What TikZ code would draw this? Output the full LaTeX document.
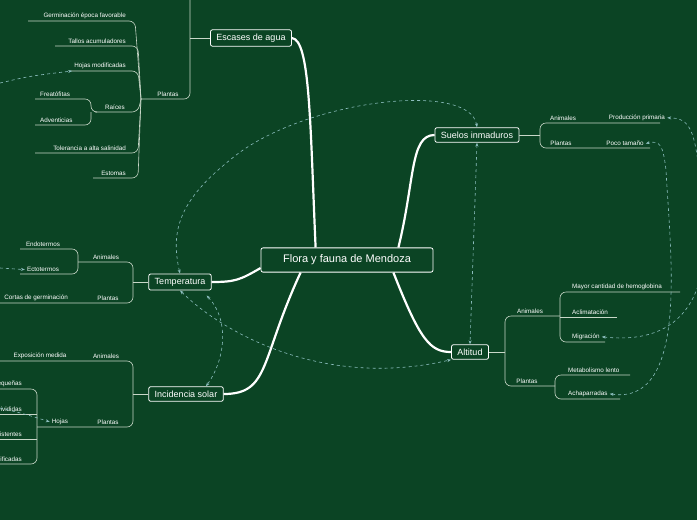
\documentclass[tikz,border=0pt]{standalone}
\usepackage{fontspec}
\setmainfont{Liberation Sans}
\usetikzlibrary{arrows.meta}
\definecolor{bg}{RGB}{11,68,36}
\definecolor{ln}{RGB}{200,215,200}
\definecolor{dsh}{RGB}{140,190,190}
\begin{document}
\begin{tikzpicture}[x=1pt,y=-1pt,
  topic/.style={draw=white,thick,rounded corners=2pt,fill=bg,text=white,font=\fontsize{9}{10}\selectfont,inner xsep=6pt,inner ysep=4pt},
  lbl/.style={text=white,font=\fontsize{6.3}{7}\selectfont,anchor=south,inner sep=2pt},
  ul/.style={draw=ln,line width=0.6pt,rounded corners=6pt},
  main/.style={draw=white,line width=2.2pt},
  relb/.style={draw=dsh,dashed,line width=0.6pt,{Stealth[length=4pt]}-{Stealth[length=4pt]}},
  rel/.style={draw=dsh,dashed,line width=0.6pt,-{Stealth[length=4pt]}}]
\fill[bg] (0,0) rectangle (697,520);
\clip (0,0) rectangle (697,520);
% main topics
\node[topic,font=\fontsize{11}{12}\selectfont,inner ysep=7pt,minimum width=172pt] (c) at (347,260) {Flora y fauna de Mendoza};
\node[topic] (ea) at (251,38) {Escases de agua};
\node[topic] (si) at (477,135) {Suelos inmaduros};
\node[topic] (te) at (180,282) {Temperatura};
\node[topic] (is) at (186,394) {Incidencia solar};
\node[topic] (al) at (470,352) {Altitud};
% thick connectors
\draw[main] (c.north west)++(55,0) .. controls (310,120) and (310,40) .. (ea.east);
\draw[main] (c.north east)++(-35,0) .. controls (415,180) and (410,135) .. (si.west);
\draw[main] (c.west) ++(0,8) .. controls (240,280) and (235,282) .. (te.east);
\draw[main] (c.south west)++(40,0) .. controls (260,360) and (270,394) .. (is.east);
\draw[main] (c.south east)++(-40,0) .. controls (420,340) and (430,352) .. (al.west);
% Escases de agua
\node[lbl] (eap) at (168,99) {Plantas};
\draw[ul] (ea.west) -- (190,38);
\draw[ul] (190,-10) -- (190,99) -- (141,99);
\node[lbl,anchor=south east] (g1) at (128,21) {Germinación época favorable};
\node[lbl,anchor=south east] (g2) at (128,46) {Tallos acumuladores};
\node[lbl,anchor=south east] (g3) at (128,71) {Hojas modificadas};
\node[lbl] (g4) at (115,112) {Raíces};
\node[lbl,anchor=south east] (g5) at (128,153) {Tolerancia a alta salinidad};
\node[lbl,anchor=south east] (g6) at (128,178) {Estomas};
\draw[ul] (28,21) -- (135,21) -- (141,99);
\draw[ul] (55,46) -- (138,46) -- (141,99);
\draw[ul] (70,71) -- (138,71) -- (141,99);
\draw[ul] (95,112) -- (138,112) -- (141,99);
\draw[ul] (35,153) -- (138,153) -- (141,99);
\draw[ul] (93,178) -- (138,178) -- (141,99);
\node[lbl,anchor=south west] (fr) at (38,99) {Freatófitas};
\node[lbl,anchor=south west] (ad) at (38,125) {Adventicias};
\draw[ul] (35,99) -- (91,99) -- (91,112) -- (96,112);
\draw[ul] (35,125) -- (91,125) -- (91,112);
\draw[rel] (0,83) .. controls (30,76) .. (g3.south west);
% Temperatura
\node[lbl] (ta) at (106,262) {Animales};
\node[lbl] (tp) at (108,303) {Plantas};
\draw[ul] (te.west) -- (133,282);
\draw[ul] (78,262) -- (133,262) -- (133,303) -- (0,303);
\node[lbl] (en) at (43,249) {Endotermos};
\node[lbl] (ec) at (43,274) {Ectotermos};
\node[lbl,anchor=south east] (co) at (70,303) {Cortas de germinación};
\draw[ul] (20,249) -- (78,249) -- (78,274) -- (20,274);
\draw[rel] (0,268) -- (ec.west);
% Incidencia solar
\node[lbl] (ia) at (106,361) {Animales};
\node[lbl] (ip) at (108,427) {Plantas};
\draw[ul] (is.west) -- (133,394);
\draw[ul] (0,361) -- (133,361) -- (133,427) -- (37,427);
\node[lbl] (ex) at (40,361) {Exposición medida};
\node[lbl] (ho) at (60,427) {Hojas};
\node[lbl,anchor=south east] (h1) at (24,389) {Pequeñas};
\node[lbl,anchor=south east] (h2) at (24,414) {Divididas};
\node[lbl,anchor=south east] (h3) at (24,439) {Persistentes};
\node[lbl,anchor=south east] (h4) at (24,464) {Modificadas};
\draw[ul] (0,389) -- (37,389) -- (37,464) -- (0,464);
\draw[ul] (0,414) -- (37,414);
\draw[ul] (0,439) -- (37,439);
\draw[rel] (0,408) .. controls (25,414) .. (ho.west);
% Suelos inmaduros
\draw[ul] (si.east) -- (540,135);
\draw[ul] (660,123) -- (540,123) -- (540,148) -- (650,148);
\node[lbl] (sa) at (563,123) {Animales};
\node[lbl] (sp) at (561,148) {Plantas};
\node[lbl] (pp) at (637,123) {Producción primaria};
\node[lbl] (pt) at (625,148) {Poco tamaño};
% Altitud
\draw[ul] (al.east) -- (505,352);
\draw[ul] (560,316) -- (505,316) -- (505,386) -- (555,386);
\node[lbl] (aa) at (530,316) {Animales};
\node[lbl] (ap) at (527,386) {Plantas};
\draw[ul] (680,292) -- (560,292) -- (560,342) -- (605,342);
\draw[ul] (617,317) -- (560,317);
\node[lbl,anchor=south west] (m1) at (570,292) {Mayor cantidad de hemoglobina};
\node[lbl,anchor=south west] (m2) at (570,317) {Aclimatación};
\node[lbl,anchor=south west] (m3) at (570,342) {Migración};
\draw[ul] (630,375) -- (555,375) -- (555,399) -- (620,399);
\node[lbl,anchor=south west] (p1) at (566,375) {Metabolismo lento};
\node[lbl,anchor=south west] (p2) at (566,399) {Achaparradas};
% relationships
\draw[relb] (m3.east) .. controls (680,345) and (720,300) .. (700,180) .. controls (695,130) and (690,118) .. (pp.east);
\draw[relb] (p2.east) .. controls (690,405) and (670,250) .. (666,170) .. controls (663,145) and (660,140) .. (pt.east);
\draw[relb] (si.north) .. controls (470,80) and (300,100) .. (230,160) .. controls (180,200) and (170,230) .. (te.north);
\draw[relb] (si.south) -- (al.north);
\draw[relb] (te.north east) ++(-5,22) .. controls (230,320) and (225,360) .. ([xshift=20pt]is.north);
\draw[relb] (te.south) .. controls (220,330) and (320,390) .. (al.south west);
\end{tikzpicture}
\end{document}
